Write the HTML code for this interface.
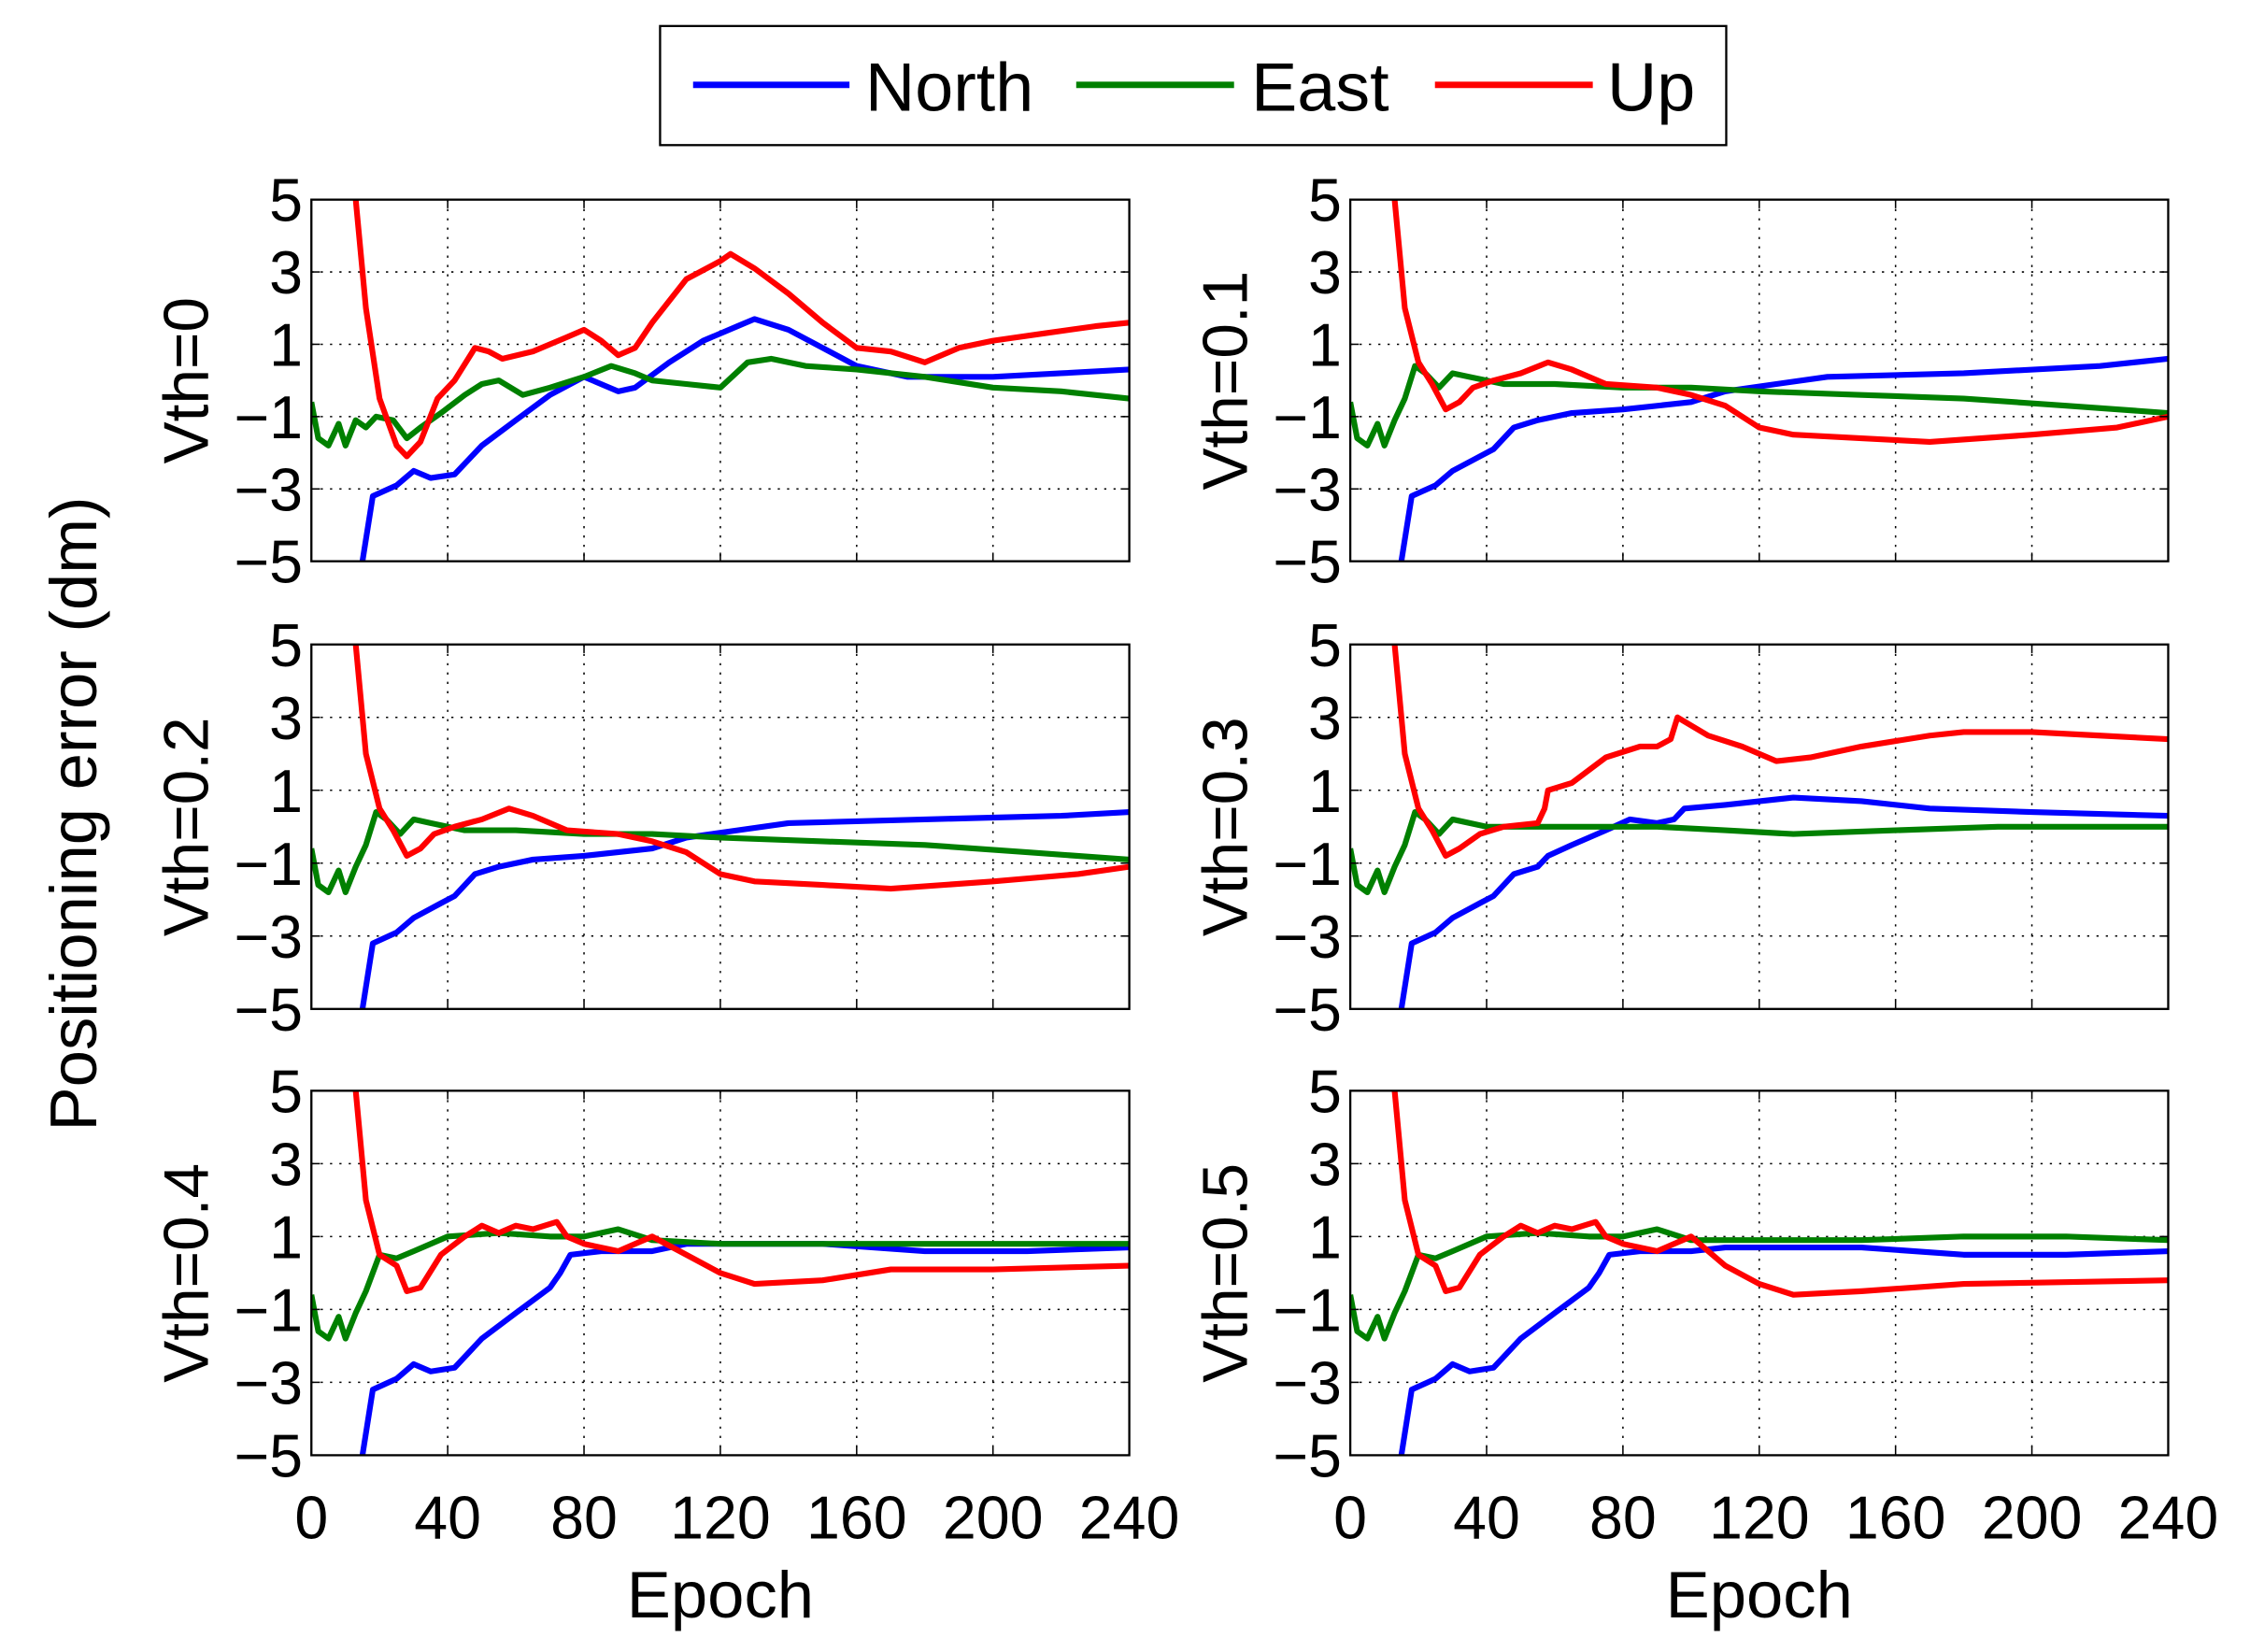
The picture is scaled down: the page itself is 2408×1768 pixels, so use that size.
<!DOCTYPE html>
<html><head><meta charset="utf-8"><style>
html,body{margin:0;padding:0;background:#fff;}
svg{display:block;}
text{font-family:"Liberation Sans",Arial,sans-serif;fill:#000;}
</style></head><body>
<svg id="s" width="2408" height="1768" viewBox="0 0 1568 1151" xmlns="http://www.w3.org/2000/svg">
<rect width="1568" height="1151" fill="#fff"/>
<rect x="460" y="18" width="743" height="83" fill="#fff" stroke="#000" stroke-width="1.5"/>
<line x1="483" y1="59" x2="592" y2="59" stroke="#0000ff" stroke-width="4.5"/>
<text x="603" y="77" font-size="48">North</text>
<line x1="750" y1="59" x2="860" y2="59" stroke="#008000" stroke-width="4.5"/>
<text x="872" y="77" font-size="48">East</text>
<line x1="1000" y1="59" x2="1110" y2="59" stroke="#ff0000" stroke-width="4.5"/>
<text x="1120" y="77" font-size="48">Up</text>
<text transform="translate(67,567) rotate(-90)" text-anchor="middle" font-size="46">Positioning error (dm)</text>
<text x="502" y="1127" text-anchor="middle" font-size="46">Epoch</text>
<text x="1226" y="1127" text-anchor="middle" font-size="46">Epoch</text>
</svg>
<script>
const S=document.getElementById('s');const NS='http://www.w3.org/2000/svg';
function el(t,a,txt){const e=document.createElementNS(NS,t);for(const k in a)e.setAttribute(k,a[k]);if(txt!==undefined)e.textContent=txt;S.appendChild(e);return e;}
const cols=[217,941],rows=[[139,391],[449,703],[760,1014]],W=570;
const st=[[0,-0.6],[2,-1.6],[5,-1.8],[8,-1.2],[10,-1.8],[13,-1.1]];
const N0=[[15,-5],[18,-3.2],[25,-2.9],[30,-2.5],[35,-2.7],[42,-2.6],[50,-1.8],[60,-1.1],[70,-0.4]];
const N1=[[15,-5],[18,-3.2],[25,-2.9],[30,-2.5],[38,-2.1],[42,-1.9],[48,-1.3],[55,-1.1],[65,-0.9],[80,-0.8],[100,-0.6],[110,-0.3],[125,-0.1],[140,0.1],[180,0.2]];
const U1=[[13,5],[16,2],[20,0.5],[24,-0.1],[28,-0.8],[32,-0.6],[36,-0.2],[42,0],[50,0.2],[58,0.5],[65,0.3],[75,-0.1],[90,-0.2],[100,-0.4],[110,-0.7],[120,-1.3],[130,-1.5],[150,-1.6],[170,-1.7],[200,-1.5],[225,-1.3]];
const E1=st.concat([[16,-0.5],[19,0.4],[22,0.2],[26,-0.2],[30,0.2],[35,0.1],[45,-0.1],[60,-0.1],[80,-0.2],[100,-0.2],[120,-0.3],[150,-0.4],[180,-0.5],[210,-0.7]]);
const P=[
{l:'Vth=0',
N:N0.concat([[80,0.1],[90,-0.3],[95,-0.2],[105,0.5],[115,1.1],[125,1.5],[130,1.7],[140,1.4],[150,0.9],[160,0.4],[175,0.1],[200,0.1],[220,0.2],[240,0.3]]),
E:st.concat([[16,-1.3],[19,-1],[24,-1.1],[28,-1.6],[32,-1.3],[38,-0.9],[45,-0.4],[50,-0.1],[55,0],[62,-0.4],[70,-0.2],[80,0.1],[88,0.4],[95,0.2],[100,0],[110,-0.1],[120,-0.2],[128,0.5],[135,0.6],[145,0.4],[160,0.3],[180,0.1],[200,-0.2],[220,-0.3],[240,-0.5]]),
U:[[13,5],[16,2],[20,-0.5],[25,-1.8],[28,-2.1],[32,-1.7],[37,-0.5],[42,0],[48,0.9],[52,0.8],[56,0.6],[65,0.8],[70,1.0],[75,1.2],[80,1.4],[85,1.1],[90,0.7],[95,0.9],[100,1.6],[110,2.8],[120,3.3],[123,3.5],[130,3.1],[140,2.4],[150,1.6],[160,0.9],[170,0.8],[180,0.5],[190,0.9],[200,1.1],[215,1.3],[230,1.5],[240,1.6]]},
{l:'Vth=0.1',N:N1.concat([[220,0.4],[240,0.6]]),E:E1.concat([[240,-0.9]]),U:U1.concat([[240,-1.0]])},
{l:'Vth=0.2',N:N1.concat([[220,0.3],[240,0.4]]),E:E1.concat([[240,-0.9]]),U:U1.concat([[240,-1.1]])},
{l:'Vth=0.3',
N:N1.slice(0,8).concat([[58,-0.8],[65,-0.5],[75,-0.1],[82,0.2],[90,0.1],[95,0.2],[98,0.5],[110,0.6],[130,0.8],[150,0.7],[170,0.5],[200,0.4],[240,0.3]]),
E:st.concat([[16,-0.5],[19,0.4],[22,0.2],[26,-0.2],[30,0.2],[40,0],[60,0],[90,0],[110,-0.1],[130,-0.2],[160,-0.1],[190,0],[240,0]]),
U:[[13,5],[16,2],[20,0.5],[24,-0.1],[28,-0.8],[32,-0.6],[38,-0.2],[45,0],[55,0.1],[57,0.5],[58,1.0],[65,1.2],[75,1.9],[85,2.2],[90,2.2],[94,2.4],[96,3.0],[105,2.5],[115,2.2],[125,1.8],[135,1.9],[150,2.2],[170,2.5],[180,2.6],[200,2.6],[220,2.5],[240,2.4]]},
{l:'Vth=0.4',
N:N0.concat([[73,0],[76,0.5],[85,0.6],[100,0.6],[110,0.8],[130,0.8],[150,0.8],[180,0.6],[210,0.6],[240,0.7]]),
E:st.concat([[16,-0.5],[20,0.5],[25,0.4],[30,0.6],[40,1.0],[55,1.1],[70,1.0],[80,1.0],[90,1.2],[100,0.9],[120,0.8],[160,0.8],[200,0.8],[240,0.8]]),
U:[[13,5],[16,2],[20,0.5],[25,0.2],[28,-0.5],[32,-0.4],[38,0.5],[45,1.0],[50,1.3],[55,1.1],[60,1.3],[65,1.2],[72,1.4],[75,1.0],[80,0.8],[90,0.6],[95,0.8],[100,1.0],[110,0.5],[120,0],[130,-0.3],[150,-0.2],[170,0.1],[200,0.1],[240,0.2]]},
{l:'Vth=0.5',
N:N0.concat([[73,0],[76,0.5],[85,0.6],[100,0.6],[110,0.7],[130,0.7],[150,0.7],[180,0.5],[210,0.5],[240,0.6]]),
E:st.concat([[16,-0.5],[20,0.5],[25,0.4],[30,0.6],[40,1.0],[55,1.1],[70,1.0],[80,1.0],[90,1.2],[100,0.9],[120,0.9],[150,0.9],[180,1.0],[210,1.0],[240,0.9]]),
U:[[13,5],[16,2],[20,0.5],[25,0.2],[28,-0.5],[32,-0.4],[38,0.5],[45,1.0],[50,1.3],[55,1.1],[60,1.3],[65,1.2],[72,1.4],[75,1.0],[80,0.8],[90,0.6],[95,0.8],[100,1.0],[110,0.2],[120,-0.3],[130,-0.6],[150,-0.5],[180,-0.3],[240,-0.2]]}
];
P.forEach((p,i)=>{
 const x0=cols[i%2],r=rows[Math.floor(i/2)],y0=r[0],y1=r[1],H=y1-y0;
 const X=v=>x0+v/240*W,Y=v=>y0+(5-v)/10*H;
 for(let v=40;v<240;v+=40)el('line',{x1:X(v),x2:X(v),y1:y0,y2:y1,stroke:'#000','stroke-width':1,'stroke-dasharray':'1.5 5'});
 for(let v=-3;v<=3;v+=2)el('line',{x1:x0,x2:x0+W,y1:Y(v),y2:Y(v),stroke:'#000','stroke-width':1,'stroke-dasharray':'1.5 5'});
 const cp=document.createElementNS(NS,'clipPath');cp.id='c'+i;const rr=document.createElementNS(NS,'rect');
 rr.setAttribute('x',x0);rr.setAttribute('y',y0);rr.setAttribute('width',W);rr.setAttribute('height',H);cp.appendChild(rr);S.appendChild(cp);
 [['N','#0000ff'],['E','#008000'],['U','#ff0000']].forEach(([k,c])=>{
  el('polyline',{points:p[k].map(q=>X(q[0]).toFixed(1)+','+Y(q[1]).toFixed(1)).join(' '),fill:'none',stroke:c,'stroke-width':4,'stroke-linejoin':'round','clip-path':'url(#c'+i+')'});
 });
 el('rect',{x:x0,y:y0,width:W,height:H,fill:'none',stroke:'#000','stroke-width':1.5});
 for(let v=40;v<240;v+=40){el('line',{x1:X(v),x2:X(v),y1:y1,y2:y1-6,stroke:'#000'});el('line',{x1:X(v),x2:X(v),y1:y0,y2:y0+6,stroke:'#000'});}
 for(let v=-3;v<=3;v+=2){el('line',{x1:x0,x2:x0+6,y1:Y(v),y2:Y(v),stroke:'#000'});el('line',{x1:x0+W,x2:x0+W-6,y1:Y(v),y2:Y(v),stroke:'#000'});}
 for(let v=-5;v<=5;v+=2)el('text',{x:x0-6,y:Y(v)+15,'text-anchor':'end','font-size':42},v<0?'\u2212'+(-v):''+v);
 el('text',{transform:`translate(${x0-72},${(y0+y1)/2}) rotate(-90)`,'text-anchor':'middle','font-size':44},p.l);
 if(i>=4)for(let v=0;v<=240;v+=40)el('text',{x:X(v),y:1072,'text-anchor':'middle','font-size':42},''+v);
});
</script>
</body></html>
